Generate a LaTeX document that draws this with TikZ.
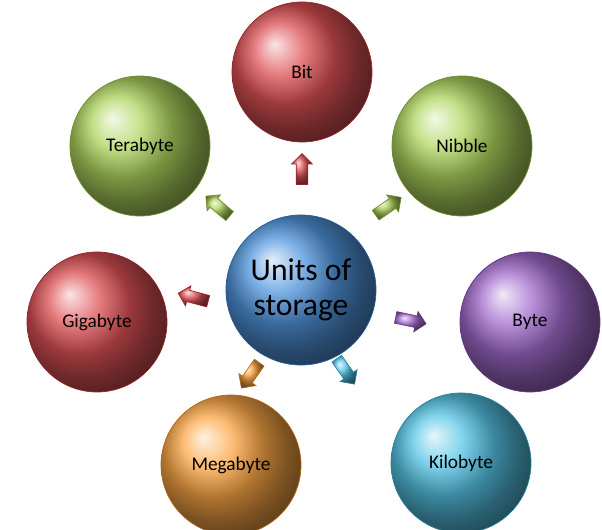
\documentclass[tikz,border=0pt]{standalone}
\usepackage{fontspec}
\setmainfont{Carlito}
\usetikzlibrary{shapes.arrows}
\definecolor{bitColor}{RGB}{215,50,55}
\definecolor{nibbleColor}{RGB}{160,205,65}
\definecolor{byteColor}{RGB}{145,80,195}
\definecolor{kiloColor}{RGB}{55,185,225}
\definecolor{megaColor}{RGB}{250,150,35}
\definecolor{centerColor}{RGB}{50,130,215}
\tikzset{
  unit/.style={circle,minimum size=140*0.02cm,inner sep=0pt,draw=#1!70!black,ball color=#1!85!white,font=\fontsize{11}{13}\selectfont},
  pointer/.style={single arrow,draw=#1!70!black,ball color=#1!85!white,minimum height=0.62cm,inner sep=0.11cm,single arrow head extend=0.09cm}
}
\begin{document}
\begin{tikzpicture}[x=0.02cm,y=-0.02cm]
  \useasboundingbox (0,0) rectangle (602,530);
  % Center
  \node[unit=centerColor,minimum size=150*0.02cm,font=\fontsize{18}{20}\selectfont,align=center] (storage) at (301,290) {Units of\\storage};
  % Units
  \node[unit=bitColor] (bit) at (302,72) {Bit};
  \node[unit=nibbleColor] (nibble) at (462,146) {Nibble};
  \node[unit=byteColor] (byte) at (530,322) {Byte};
  \node[unit=kiloColor] (kilo) at (461,463) {Kilobyte};
  \node[unit=megaColor] (mega) at (231,465) {Megabyte};
  \node[unit=bitColor] (giga) at (97,322) {Gigabyte};
  \node[unit=nibbleColor] (tera) at (140,146) {Terabyte};
  % Arrows
  \node[pointer=bitColor,rotate=90] (toBit) at (302,172) {};
  \node[pointer=nibbleColor,rotate=35] (toNibble) at (386,208) {};
  \node[pointer=byteColor,rotate=-12] (toByte) at (408,320) {};
  \node[pointer=kiloColor,rotate=-55] (toKilo) at (344,369) {};
  \node[pointer=megaColor,rotate=-125] (toMega) at (252,373) {};
  \node[pointer=bitColor,rotate=165] (toGiga) at (196,298) {};
  \node[pointer=nibbleColor,rotate=140] (toTera) at (220,208) {};
\end{tikzpicture}
\end{document}
